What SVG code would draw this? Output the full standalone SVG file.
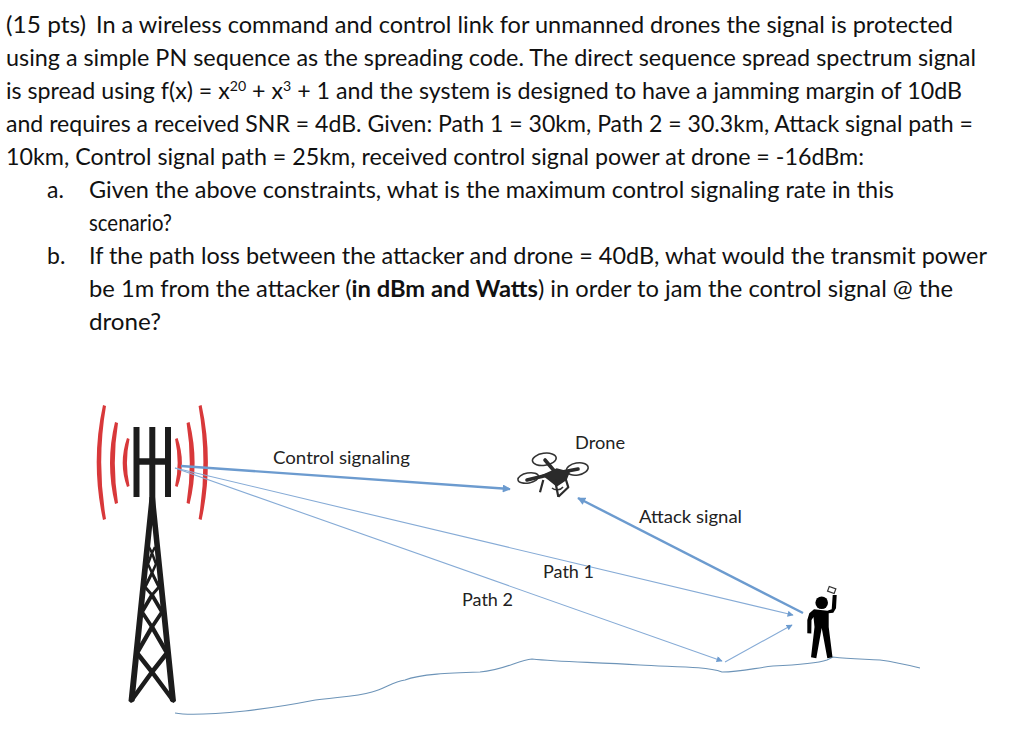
<svg xmlns="http://www.w3.org/2000/svg" xmlns:xlink="http://www.w3.org/1999/xlink" width="1024" height="747" viewBox="0 0 1024 747">
<style>
text{font-family:"Lato","Open Sans","Liberation Sans",sans-serif;fill:#111}
.q{font-size:23px}
.l{font-size:18px;fill:#222}
.sup{font-size:14px}
.red{fill:#d8383a}
.blk{fill:none;stroke:#1c1c1c}
.thin{fill:none;stroke:#86abd6;stroke-width:1.100}
.thick{fill:none;stroke:#6c9bcf;stroke-width:2.400}
</style>
<defs>
<marker id="a" viewBox="0 0 10 10" refX="9" refY="5" markerWidth="7" markerHeight="6" markerUnits="userSpaceOnUse" orient="auto"><path d="M0 0L10 5L0 10Z" fill="#6c9bcf"/></marker>
<marker id="b" viewBox="0 0 10 10" refX="9" refY="5" markerWidth="9" markerHeight="8" markerUnits="userSpaceOnUse" orient="auto"><path d="M0 0L10 5L0 10Z" fill="#6c9bcf"/></marker>
<g id="arcs">
<path class="red" d="M103 405Q90.400 462 103 520L106 519Q96.400 462 106 406Z"/>
<path class="red" d="M115 422Q105 463 115 504L118 503Q111.600 463 118 423Z"/>
<path class="red" d="M127 438Q118.400 463 127 487L129.500 486Q124.400 463 129.500 439Z"/>
</g>
</defs>
<rect width="1024" height="747" fill="#fff"/>
<g id="question">
<text class="q" x="6" y="33" textLength="80" lengthAdjust="spacingAndGlyphs">(15 pts)</text>
<text class="q" x="96" y="33" textLength="857" lengthAdjust="spacingAndGlyphs">In a wireless command and control link for unmanned drones the signal is protected</text>
<text class="q" x="6" y="66" textLength="970" lengthAdjust="spacingAndGlyphs">using a simple PN sequence as the spreading code. The direct sequence spread spectrum signal</text>
<text class="q" x="6" y="99" textLength="956" lengthAdjust="spacingAndGlyphs">is spread using f(x) = x<tspan class="sup" dy="-8">20</tspan><tspan dy="8"> + x</tspan><tspan class="sup" dy="-8">3</tspan><tspan dy="8"> + 1 and the system is designed to have a jamming margin of 10dB</tspan></text>
<text class="q" x="6" y="132" textLength="967" lengthAdjust="spacingAndGlyphs">and requires a received SNR = 4dB. Given: Path 1 = 30km, Path 2 = 30.3km, Attack signal path =</text>
<text class="q" x="6" y="165" textLength="858" lengthAdjust="spacingAndGlyphs">10km, Control signal path = 25km, received control signal power at drone = -16dBm:</text>
<text class="q" x="47" y="198">a.</text>
<text class="q" x="89" y="198" textLength="805" lengthAdjust="spacingAndGlyphs">Given the above constraints, what is the maximum control signaling rate in this</text>
<text class="q" x="89" y="231" textLength="83" lengthAdjust="spacingAndGlyphs">scenario?</text>
<text class="q" x="47" y="264">b.</text>
<text class="q" x="89" y="264" textLength="898" lengthAdjust="spacingAndGlyphs">If the path loss between the attacker and drone = 40dB, what would the transmit power</text>
<text class="q" x="89" y="297" textLength="864" lengthAdjust="spacingAndGlyphs">be 1m from the attacker (<tspan font-weight="700">in dBm and Watts</tspan>) in order to jam the control signal @ the</text>
<text class="q" x="89" y="330" textLength="72" lengthAdjust="spacingAndGlyphs">drone?</text>
</g>
<g id="ground"><path d="M175 713C190 716 215 714 245 711C270 708 290 705 310 701C335 697 355 697 372 692C385 689 392 682 405 680C420 674 450 673 480 672C505 670 518 660 532 659C560 662 590 662 640 665C670 667 705 666 722 672C740 672 755 668 773 666C795 665 815 664 827 660L833 657C850 659 865 659 880 660C895 662 908 665 920 668" fill="none" stroke="#6d94b8" stroke-width="1.100"/></g>
<g id="tower">
<use xlink:href="#arcs" href="#arcs"/>
<use xlink:href="#arcs" href="#arcs" transform="translate(304.600 0) scale(-1 1)"/>
<path class="blk" stroke-width="6" d="M136.500 427V497M152.300 427V510M168 427V497"/>
<path class="blk" stroke-width="6.500" d="M136 461.500H168"/>
<path d="M149.500 497L128.500 701L131 703L134.500 701L152.300 525L170 701L173.500 703L176 701L155 497Z" fill="#1c1c1c"/>
<g class="blk" stroke-linejoin="round">
<path stroke-width="4.500" d="M131 701L152 672L167 653L152 627M173.500 701L152 672L137 653L152 627"/>
<path stroke-width="3.800" d="M152 627L142 612L152 595M152 627L162 612L152 595"/>
<path stroke-width="3" d="M152 595L159 587L152 573M152 595L145 587L152 573"/>
<path stroke-width="2.500" d="M152 573L148 564L152 553L155 547M152 573L156 564L152 553L149 547"/>
</g>
</g>
<g id="drone">
<g fill="none" stroke="#333" stroke-width="1.500">
<ellipse cx="544.300" cy="459.300" rx="12" ry="6" transform="rotate(-8 544.300 459.300)"/>
<ellipse cx="528.300" cy="478" rx="10.500" ry="5" transform="rotate(-10 528.300 478)"/>
<ellipse cx="577.300" cy="469" rx="11" ry="6" transform="rotate(-10 577.300 469)"/>
<path d="M552 488A7 6 0 0 0 563 487"/>
</g>
<path d="M527 480L552 474L578 469M545 460L556 473" fill="none" stroke="#2b2b2b" stroke-width="3.600" stroke-linecap="round"/>
<path d="M541.700 475L556.700 468.300L570 471.700L566.700 480L556.700 486.700L548.300 480Z" fill="#2b2b2b"/>
<path d="M540 492.300L543.300 480M558.300 496.700L568.300 487.300L565 476.700M558.300 496.700L555 480" fill="none" stroke="#2b2b2b" stroke-width="2.200" stroke-linejoin="round"/>
</g>
<g id="person">
<circle cx="821.700" cy="602.700" r="6.300" fill="#000"/>
<path d="M814 609.300L827.300 610.700L831.700 609.300L832.700 595L836.700 595L836 608.300L833.300 612.700L828.700 613.300L828.700 627L832.500 657.300L827.300 658.300L821.700 628L816.300 658.300L811 657.300L814.500 627L813.500 617L811.500 620L811.300 633.500L807.300 633.300L807.300 620L809.300 613.300Z" fill="#000"/>
<rect x="828.200" y="587.500" width="7" height="5" fill="#fff" stroke="#333" stroke-width="1.200" transform="rotate(20 831.700 590)"/>
</g>
<g id="connectors">
<path class="thin" d="M175 468L793 615" marker-end="url(#a)"/>
<path class="thin" d="M175 468L722 661" marker-end="url(#a)"/>
<path class="thin" d="M725 662L792 625" marker-end="url(#a)"/>
<path class="thick" d="M181 466L510 489" marker-end="url(#b)"/>
<path class="thick" d="M803 613L578 498" marker-end="url(#b)"/>
</g>
<g id="labels">
<text class="l" x="273" y="464" textLength="137" lengthAdjust="spacingAndGlyphs">Control signaling</text>
<text class="l" x="575" y="449" textLength="50" lengthAdjust="spacingAndGlyphs">Drone</text>
<text class="l" x="639" y="523" textLength="103" lengthAdjust="spacingAndGlyphs">Attack signal</text>
<text class="l" x="543" y="578" textLength="51" lengthAdjust="spacingAndGlyphs">Path 1</text>
<text class="l" x="462" y="606" textLength="51" lengthAdjust="spacingAndGlyphs">Path 2</text>
</g>
</svg>
